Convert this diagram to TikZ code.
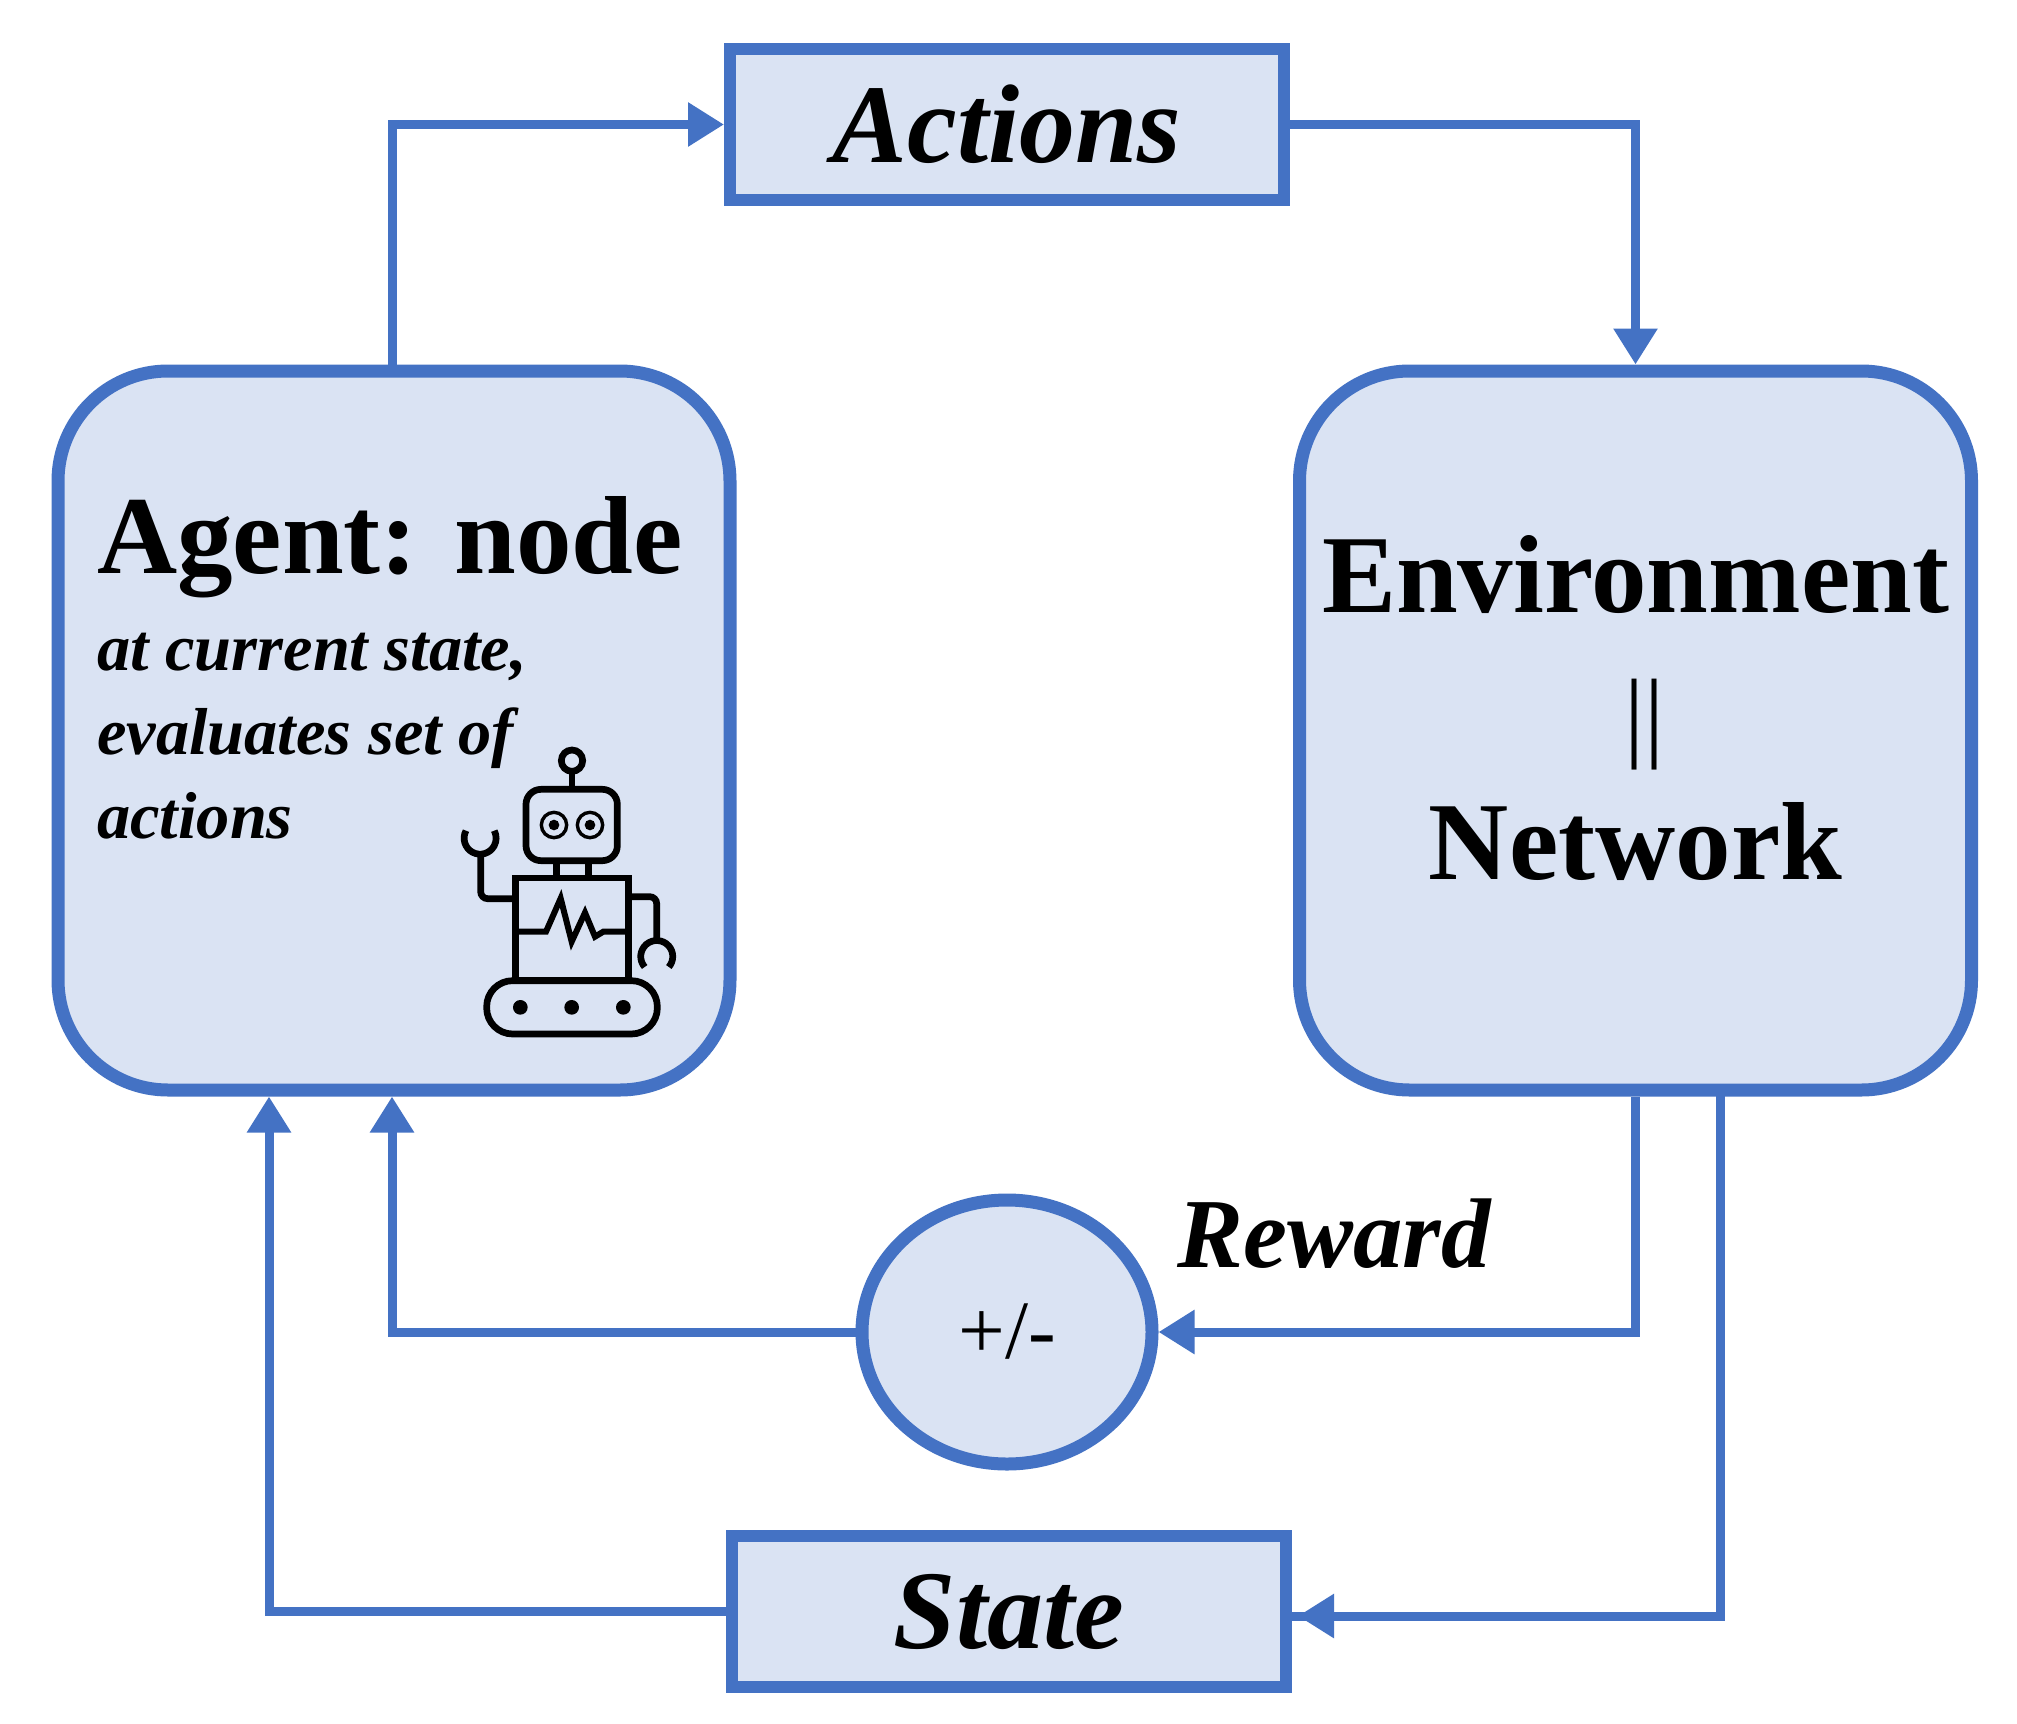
\documentclass[tikz,border=0pt]{standalone}
\usepackage{fontspec}
\setmainfont{Liberation Serif}
\usetikzlibrary{arrows.meta}
\definecolor{edgeblue}{HTML}{4472C4}
\definecolor{fillblue}{HTML}{DAE3F3}
\tikzset{
  flowbox/.style={draw=edgeblue,fill=fillblue,line width=12pt,rectangle,minimum width=554pt,minimum height=151pt,inner sep=0pt,font=\fontsize{112}{112}\selectfont\bfseries\itshape},
  bigbox/.style={draw=edgeblue,fill=fillblue,line width=13pt,rectangle,rounded corners=110pt,minimum width=672pt,minimum height=719pt,inner sep=0pt},
  signnode/.style={draw=edgeblue,fill=fillblue,line width=13pt,ellipse,minimum width=290pt,minimum height=264pt,inner sep=0pt,font=\fontsize{83}{83}\selectfont},
  conn/.style={draw=edgeblue,line width=9pt},
  arr/.style={conn,-{Triangle[length=36pt,width=42pt]}},
  headline/.style={inner sep=0pt,font=\fontsize{111}{111}\selectfont\bfseries},
  subline/.style={anchor=base west,inner sep=0pt,font=\fontsize{66.4}{66.4}\selectfont\bfseries\itshape},
  rob/.style={draw=black,line width=6.7pt},
  robthin/.style={draw=black,line width=3.4pt},
  robdot/.style={fill=black},
}
\usetikzlibrary{shapes.geometric}
\begin{document}
\begin{tikzpicture}[x=1pt,y=-1pt]
\useasboundingbox (0,0) rectangle (2017,1723);
\fill[white] (0,0) rectangle (2017,1723);
% nodes
\node[bigbox] (agent) at (394,730.5) {};
\node[bigbox] (env) at (1635.5,730.5) {};
\node[flowbox] (actions) at (1007,124.5) {Actions};
\node[flowbox] (state) at (1009,1611.5) {State};
\node[signnode] (sign) at (1007,1332) {+/-};
% free ends
\coordinate (agentTop) at (392,371);
\coordinate (agentIn) at (392,1090);
\coordinate (agentState) at (269,1090);
\coordinate (envOut) at (1720,1090);
\coordinate (stateIn) at (1286,1616);
% connectors
\draw[arr] (agent.north -| agentTop) |- (actions.west);
\draw[arr] (actions.east) -| (env.north);
\draw[arr] (env.south) |- (sign.east);
\draw[arr] (sign.west) -| (agent.south -| agentIn);
\draw[conn] (envOut) |- (stateIn);
\draw[arr] (envOut |- stateIn) -- ([xshift=6pt]state.east |- stateIn);
\draw[arr] (state.west) -| (agent.south -| agentState);
% texts
\node[headline,anchor=base west] (agentT) at (97,573) {Agent: node};
\node[subline] (s1) at (97,670) {at current state,};
\node[subline] (s2) at (97,754) {evaluates set of};
\node[subline] (s3) at (97,838) {actions};
\node[headline,anchor=base] (envT) at (1635.5,612) {Environment};
\node[inner sep=0pt,anchor=base,font=\fontsize{100}{100}\selectfont] (barsT) at (1644,748) {||};
\node[headline,anchor=base] (netT) at (1635.5,879) {Network};
\node[anchor=base west,inner sep=0pt,font=\fontsize{99}{99}\selectfont\bfseries\itshape] (rewardT) at (1177,1267) {Reward};
% robot
\begin{scope}[shift={(440,730)},x=0.33333pt,y=-0.33333pt]
\draw[rob] (396,92) circle[radius=32];
\draw[rob] (396,125) -- (396,178);
\draw[rob,rounded corners=15pt] (258,178) rectangle (532,392);
\draw[robthin] (342,285) circle[radius=38];
\draw[robthin] (450,285) circle[radius=38];
\fill[robdot] (342,285) circle[radius=16];
\fill[robdot] (450,285) circle[radius=16];
\draw[rob] (350,392) -- (350,444);
\draw[rob] (445,392) -- (445,444);
\draw[rob] (226,444) rectangle (566,752);
\draw[rob,rounded corners=7pt] (226,506) -- (122,506) -- (122,372);
\draw[rob] (78,302) arc[start angle=208,end angle=-28,radius=48];
\draw[rob,rounded corners=7pt] (566,500) -- (650,500) -- (650,632);
\draw[rob] (614,711) arc[start angle=139,end angle=401,radius=48];
\draw[rob,line width=6pt] (232,605) -- (318,605) -- (362,505) -- (395,635) -- (435,548) -- (465,620) -- (490,605) -- (556,605);
\draw[rob,rounded corners=26pt] (140,752) rectangle (652,912);
\fill[robdot] (241,832) circle[radius=22];
\fill[robdot] (395,832) circle[radius=22];
\fill[robdot] (550,832) circle[radius=22];
\end{scope}
\end{tikzpicture}
\end{document}
